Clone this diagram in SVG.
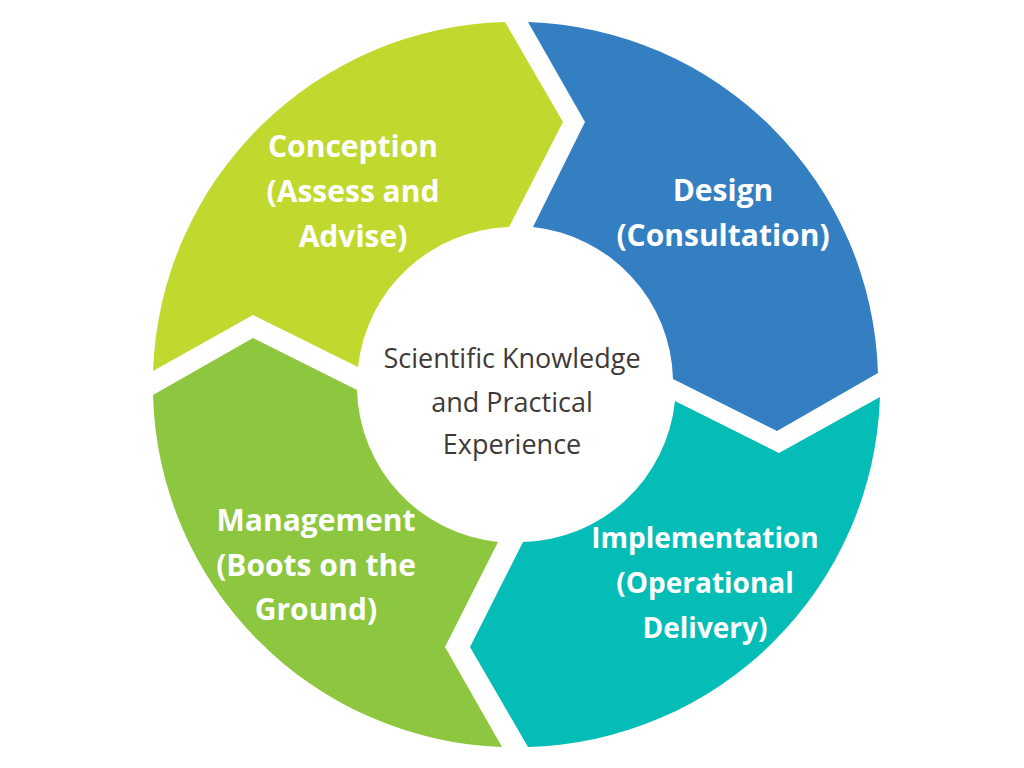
<svg xmlns="http://www.w3.org/2000/svg" width="1024" height="768" viewBox="0 0 1024 768">
<style>
.l{font-family:"Open Sans","Liberation Sans",sans-serif;font-weight:bold;font-size:30px;fill:#fff;text-anchor:middle}
.c{font-family:"Open Sans","Liberation Sans",sans-serif;font-size:27px;fill:#3F3A38;text-anchor:middle}
</style>
<rect width="1024" height="768" fill="#fff"/>
<g id="conception">
<path d="M153,371 A362,362 0 0 1 505,22 L563,122 L509,227 A157,157 0 0 0 358,367 L253,315 Z" fill="#C1D92E"/>
<text class="l" x="353" y="157">Conception</text>
<text class="l" x="353" y="202">(Assess and</text>
<text class="l" x="353" y="247">Advise)</text>
</g>
<g id="design">
<path d="M528,22 A362,362 0 0 1 878,373 L777,431 L673,379 A157,157 0 0 0 533,227 L585,122 Z" fill="#347FC2"/>
<text class="l" x="723" y="201">Design</text>
<text class="l" x="723" y="246">(Consultation)</text>
</g>
<g id="implementation">
<path d="M880,397 A362,362 0 0 1 528,747 L470,647 L523,542 A157,157 0 0 0 675,401 L779,453 Z" fill="#05BDB7"/>
<text class="l" x="705" y="548" style="font-size:28px">Implementation</text>
<text class="l" x="705" y="593" style="font-size:28px">(Operational</text>
<text class="l" x="705" y="638" style="font-size:28px">Delivery)</text>
</g>
<g id="management">
<path d="M502,747 A362,362 0 0 1 153,395 L253,338 L357,390 A157,157 0 0 0 498,542 L445,647 Z" fill="#8DC63F"/>
<text class="l" x="316" y="531">Management</text>
<text class="l" x="316" y="576">(Boots on the</text>
<text class="l" x="316" y="620">Ground)</text>
</g>
<g id="center">
<text class="c" x="512" y="368">Scientific Knowledge</text>
<text class="c" x="512" y="412">and Practical</text>
<text class="c" x="512" y="454">Experience</text>
</g>
<g id="connectors"/>
</svg>
